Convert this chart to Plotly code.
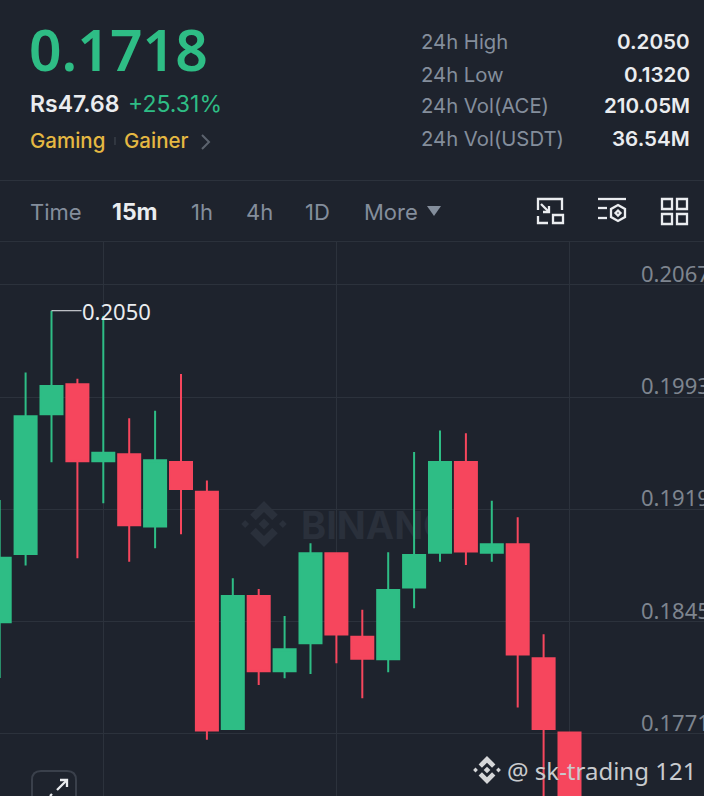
import plotly.graph_objects as go

WIDTH = 704
HEIGHT = 796
BG = '#1E232D'
GRID = '#2C323C'
GREEN = '#2EBD85'
RED = '#F6465D'
GREY = '#848E9C'
WHITE = '#EAECEF'
GOLD = '#E5B842'

candle_index = list(range(23))
open_prices = [0.18447, 0.18897, 0.19818, 0.20015, 0.19508, 0.19554, 0.19077, 0.19503,
               0.19306, 0.17743, 0.18620, 0.18123, 0.18308, 0.18901, 0.18350, 0.18203,
               0.18675, 0.18905, 0.19503, 0.18905, 0.18961, 0.18209, 0.17719]
high_prices = [0.19253, 0.20092, 0.20500, 0.20052, 0.20466, 0.19791, 0.19841, 0.20083,
               0.19380, 0.18737, 0.18666, 0.18488, 0.18967, 0.18901, 0.18528, 0.18908,
               0.19569, 0.19710, 0.19692, 0.19248, 0.19139, 0.18367, 0.17719]
low_prices = [0.18079, 0.18820, 0.19501, 0.18868, 0.19231, 0.18846, 0.18934, 0.19027,
              0.17671, 0.17743, 0.18033, 0.18077, 0.18106, 0.18176, 0.17945, 0.18117,
              0.18539, 0.18846, 0.18824, 0.18846, 0.17884, 0.17250, 0.17100]
close_prices = [0.18872, 0.19804, 0.20004, 0.19508, 0.19563, 0.19086, 0.19514, 0.19325,
                0.17732, 0.18620, 0.18123, 0.18269, 0.18901, 0.18365, 0.18205, 0.18659,
                0.18890, 0.19503, 0.18912, 0.18961, 0.18233, 0.17743, 0.17180]

price_ticks = [0.2067, 0.1993, 0.1919, 0.1845, 0.1771]
time_ticks = [4, 13, 22]

stat_labels = ['24h High', '24h Low', '24h Vol(ACE)', '24h Vol(USDT)']
stat_values = ['0.2050', '0.1320', '210.05M', '36.54M']
tab_labels = ['Time', '15m', '1h', '4h', '1D', 'More']
tab_left = [30, 112, 191, 246, 305, 364]


def px(x: float) -> float:
    """Screen x to paper x"""
    return x / WIDTH


def py(y: float) -> float:
    """Screen y to paper y"""
    return 1 - y / HEIGHT


def text(x, y, label, size, color, anchor='left', family='Inter', weight=400) -> dict:
    """Annotation placed by its screen position"""
    return dict(xref='paper', yref='paper', x=px(x), y=py(y), text=label, showarrow=False,
                xanchor=anchor, yanchor='middle', borderpad=0, borderwidth=0,
                font=dict(family=family, size=size, color=color, weight=weight))


def path(points: list, closed: bool = False) -> str:
    """SVG path in paper coordinates"""
    d = 'M' + ' L'.join(f'{px(a):.5f},{py(b):.5f}' for a, b in points)
    return d + (' Z' if closed else '')


def line_shape(points, color=WHITE, width=2.3, closed=False, fill=None, layer='above') -> dict:
    shape = dict(type='path', xref='paper', yref='paper', path=path(points, closed),
                 line=dict(color=color, width=width), layer=layer)
    if fill:
        shape['fillcolor'] = fill
        shape['line'] = dict(width=0)
    return shape


def logo(cx, cy, r, color, layer='above') -> list:
    """Exchange mark: centre, side diamonds and two chevrons"""
    s = r * 0.2
    shapes = []
    for dx, size in [(0, s * 1.2), (-r * 0.82, s * 0.85), (r * 0.82, s * 0.85)]:
        shapes.append(line_shape([(cx + dx, cy - size), (cx + dx + size, cy),
                                  (cx + dx, cy + size), (cx + dx - size, cy)],
                                 closed=True, fill=color, layer=layer))
    for sign in (-1, 1):
        shapes.append(line_shape([(cx, cy + sign * r), (cx + r * 0.6, cy + sign * r * 0.4),
                                  (cx + r * 0.36, cy + sign * r * 0.16), (cx, cy + sign * r * 0.52),
                                  (cx - r * 0.36, cy + sign * r * 0.16),
                                  (cx - r * 0.6, cy + sign * r * 0.4)],
                                 closed=True, fill=color, layer=layer))
    return shapes


fig = go.Figure()
fig.add_trace(go.Candlestick(x=candle_index, open=open_prices, high=high_prices,
                             low=low_prices, close=close_prices,
                             increasing=dict(line=dict(color=GREEN, width=2), fillcolor=GREEN),
                             decreasing=dict(line=dict(color=RED, width=2), fillcolor=RED),
                             whiskerwidth=0, hoverinfo='skip'))

annotations = [
    text(29, 49, '0.1718', 57, GREEN, family='Noto Sans', weight=600),
    text(30, 104, 'Rs47.68', 23, WHITE, weight=600),
    text(128, 104, '+25.31%', 23, GREEN),
    text(30, 141, 'Gaming', 20.5, GOLD, weight=500),
    text(124, 141, 'Gainer', 20.5, GOLD, weight=500),
    text(507, 770, '@ sk-trading 121', 24, '#C9CBCE', family='Noto Sans'),
]
for i, label in enumerate(stat_labels):
    annotations.append(text(421, 42 + 32 * i, label, 20.3, GREY))
    annotations.append(text(690, 42 + 32 * i, stat_values[i], 20.6, WHITE, anchor='right', weight=600))
for left, label in zip(tab_left, tab_labels):
    if label == '15m':
        annotations.append(text(left, 212, label, 23, WHITE, weight=700))
    else:
        annotations.append(text(left, 212, label, 22, GREY))
for price in price_ticks:
    annotations.append(dict(xref='paper', yref='y', x=px(641), y=price, text=f'{price:.4f}',
                            showarrow=False, xanchor='left', yanchor='middle', yshift=12,
                            borderpad=0, borderwidth=0,
                            font=dict(family='Noto Sans', size=22, color='#7E858F')))
# label on the 24h high
annotations.append(dict(x=2, y=max(high_prices), xref='x', yref='y', axref='pixel', ayref='pixel',
                        ax=30, ay=0, text=f'{max(high_prices):.4f}', xanchor='left',
                        yanchor='middle', showarrow=True, arrowhead=0, arrowwidth=1,
                        arrowcolor=WHITE, standoff=0, borderpad=0, borderwidth=0,
                        font=dict(family='Noto Sans', size=22, color=WHITE)))

button_path = (f'M{px(32):.5f},{py(805):.5f} L{px(32):.5f},{py(780):.5f} '
               f'Q{px(32):.5f},{py(771):.5f} {px(41):.5f},{py(771):.5f} '
               f'L{px(67):.5f},{py(771):.5f} Q{px(76):.5f},{py(771):.5f} {px(76):.5f},{py(780):.5f} '
               f'L{px(76):.5f},{py(805):.5f}')

shapes = [
    line_shape([(0, 180.5), (WIDTH, 180.5)], color=GRID, width=1),
    line_shape([(0, 241.5), (WIDTH, 241.5)], color=GRID, width=1),
    line_shape([(115, 137), (115, 145)], color='#444A55', width=1),
    line_shape([(202, 135), (209, 142), (202, 149)], color='#5C636E', width=2),
    line_shape([(427, 206), (441, 206), (434, 216)], closed=True, fill=GREY),
    # first toolbar icon
    line_shape([(538, 210), (538, 199), (562, 199), (562, 210)]),
    line_shape([(538, 216), (538, 223), (548, 223)]),
    line_shape([(541, 204), (549, 212)]),
    line_shape([(549, 206), (549, 212), (543, 212)]),
    line_shape([(553, 215), (563, 215), (563, 223), (553, 223)], closed=True),
    # second toolbar icon
    line_shape([(598, 199), (626, 199)]),
    line_shape([(598, 208), (607, 208)]),
    line_shape([(598, 218), (607, 218)]),
    line_shape([(618, 205), (625, 209), (625, 217), (618, 221), (611, 217), (611, 209)], closed=True),
    line_shape([(618, 210.5), (620.5, 213), (618, 215.5), (615.5, 213)], closed=True),
    # third toolbar icon
    line_shape([(662, 199), (672, 199), (672, 209), (662, 209)], closed=True),
    line_shape([(677, 199), (687, 199), (687, 209), (677, 209)], closed=True),
    line_shape([(662, 214), (672, 214), (672, 224), (662, 224)], closed=True),
    line_shape([(677, 214), (687, 214), (687, 224), (677, 224)], closed=True),
    # corner button
    dict(type='path', xref='paper', yref='paper', path=button_path,
         line=dict(color='#3A404B', width=2)),
    line_shape([(57, 790), (67, 780)], color=WHITE),
    line_shape([(60, 780), (67, 780), (67, 787)], color=WHITE),
    line_shape([(50, 796), (52, 794)], color=WHITE),
    # watermark under the candles
    dict(type='rect', xref='paper', yref='paper', x0=px(298), x1=px(480), y0=py(542), y1=py(506),
         layer='below', line=dict(width=0),
         label=dict(text='<b>BINANCE</b>', textposition='middle left',
                    font=dict(family='Inter', size=38, color='#2A303B'), padding=0)),
]
shapes += logo(264, 524, 23, '#2A303B', layer='below')
shapes += logo(487, 770, 14, '#D5D6D8')

fig.update_layout(
    width=WIDTH, height=HEIGHT, margin=dict(l=0, r=0, t=0, b=0),
    paper_bgcolor=BG, plot_bgcolor=BG, showlegend=False,
    boxmode='overlay', boxgap=0.15, boxgroupgap=0, annotations=annotations, shapes=shapes,
    xaxis=dict(range=[0.0116, 27.193], tickvals=time_ticks, showticklabels=False,
               showgrid=True, gridcolor=GRID, gridwidth=1, zeroline=False,
               rangeslider=dict(visible=False), fixedrange=True),
    yaxis=dict(domain=[0, 554 / HEIGHT], range=[0.17301, 0.20953], tickvals=price_ticks,
               showticklabels=False, showgrid=True, gridcolor=GRID, gridwidth=1,
               zeroline=False, fixedrange=True),
)

fig.write_html('out.html', config=dict(displayModeBar=False),
               post_script="document.body.style.margin='0';document.body.style.overflow='hidden';")
